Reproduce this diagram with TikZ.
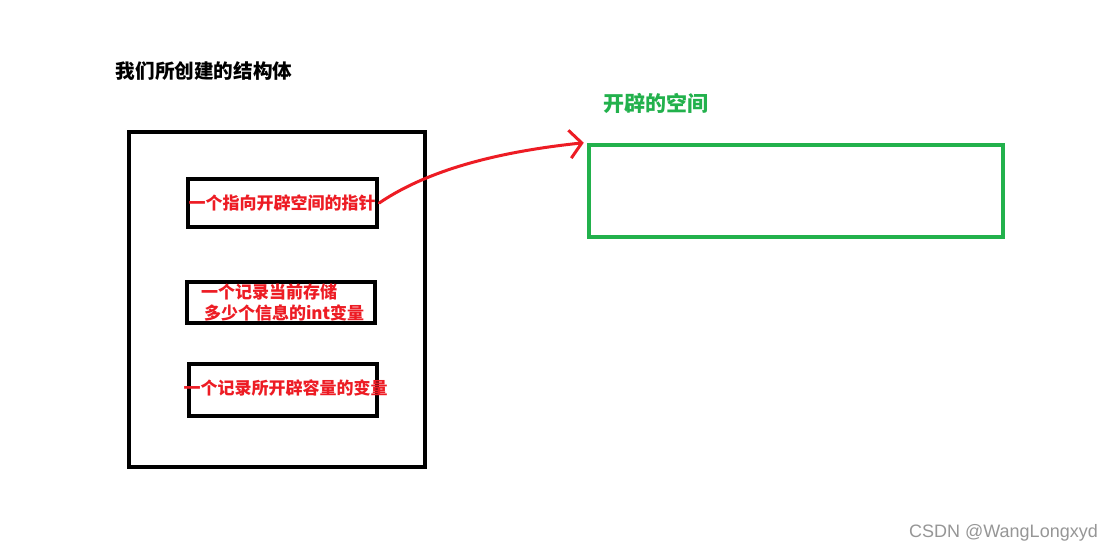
\documentclass[tikz,border=0pt]{standalone}
\usepackage{fontspec}
\setmainfont{Liberation Sans}
\newfontfamily\cjk{Noto Sans CJK SC}
\usepackage{xcolor}
\usetikzlibrary{arrows.meta,positioning}
\definecolor{paintred}{RGB}{237,28,36}
\definecolor{paintgreen}{RGB}{34,177,76}
\definecolor{markgray}{RGB}{150,150,150}

\begin{document}
\begin{tikzpicture}[x=1pt, y=-1pt,
	frame/.style={draw, line width=4.5pt, inner sep=0pt},
	redtxt/.style={text=paintred, inner sep=0pt, font=\cjk\bfseries\fontsize{17}{21}\selectfont},
	pen/.style={draw=paintred, line width=3pt, line cap=round, line join=round}
]
	\useasboundingbox[fill=white] (0,0) rectangle (1113,552);

	% Title
	\node[inner sep=0pt, font=\cjk\bfseries\fontsize{19.6}{23}\selectfont] (title) at (204,71)
		{我们所创建的结构体};

	% The struct
	\node[frame, minimum width=296pt, minimum height=335pt] (struct) at (277,299.5) {};

	\node[frame, minimum width=189pt, minimum height=48pt] (ptrbox) at (282.5,203) {};
	\node[redtxt] (ptr) at (282,203) {一个指向开辟空间的指针};

	\node[frame, minimum width=188pt, minimum height=41pt] (sizebox) at (281,302.5) {};
	\node[redtxt, anchor=west, align=left] (size) at (201,302.5)
		{一个记录当前存储\\\,多少个信息的int变量};

	\node[frame, minimum width=188pt, minimum height=52pt] (capbox) at (283,390) {};
	\node[redtxt] (cap) at (285.5,388) {一个记录所开辟容量的变量};

	% Allocated space
	\node[inner sep=0pt, text=paintgreen, font=\cjk\bfseries\fontsize{21}{25}\selectfont] (spacelbl) at (656,103)
		{开辟的空间};
	\node[frame, draw=paintgreen, minimum width=414pt, minimum height=92pt] (space) at (796,191) {};

	\draw[pen, -{Straight Barb[length=12pt, width=28pt, line width=3pt]}]
		(ptrbox.east) .. controls (435,165) and (515,150) .. ([xshift=-3pt]space.north west);

	% Watermark
	\node[inner sep=0pt, anchor=east, text=markgray, font=\fontsize{18}{21}\selectfont] (mark) at (1098,533)
		{CSDN @WangLongxyd};
\end{tikzpicture}
\end{document}
